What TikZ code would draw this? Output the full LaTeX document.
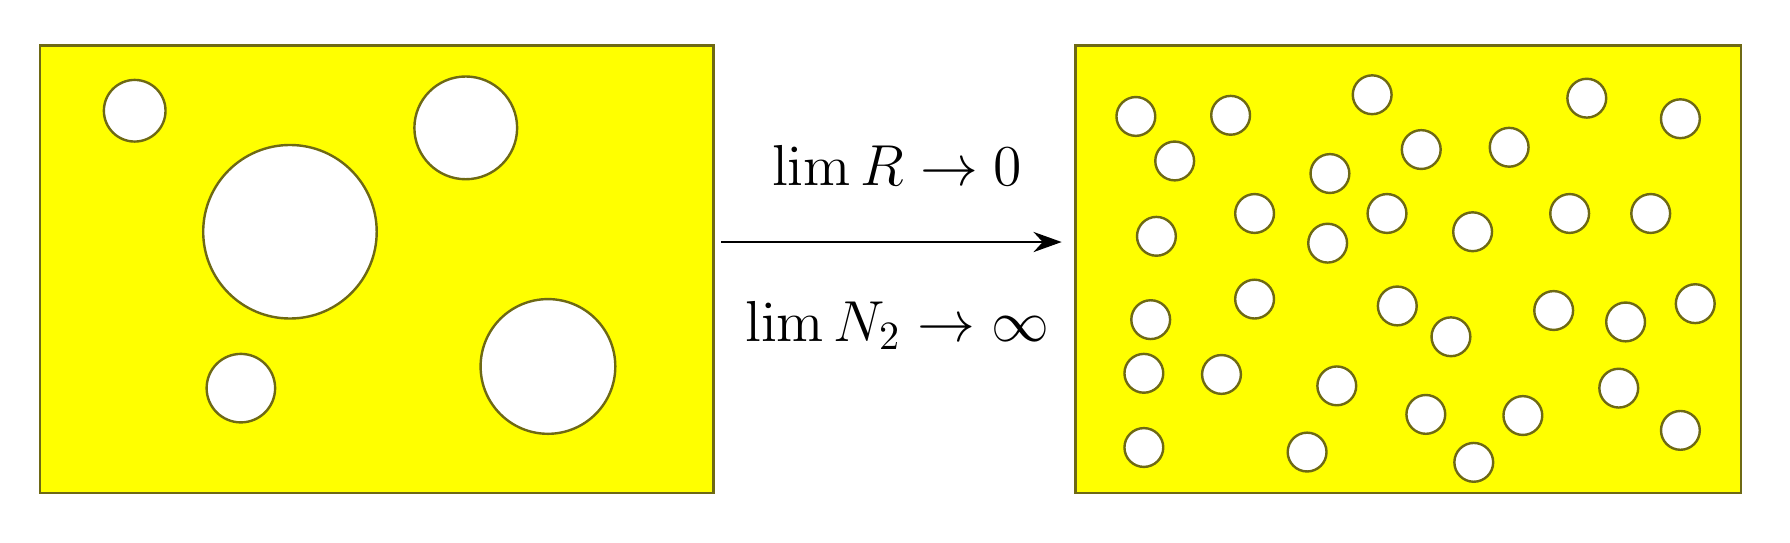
\documentclass[tikz,border=0pt]{standalone}
\usepackage{amsmath}
\usetikzlibrary{arrows.meta}
\definecolor{edge}{RGB}{110,105,20}
\definecolor{cheese}{RGB}{255,255,0}
\begin{document}
\begin{tikzpicture}[x=0.01cm,y=-0.01cm,
  box/.style={fill=cheese,draw=edge,line width=0.6pt},
  hole/.style={fill=white,draw=edge,line width=0.6pt},
  lbl/.style={font=\fontsize{14}{16}\selectfont}]
\useasboundingbox (0,0) rectangle (1568,475);
\fill[white] (0,0) rectangle (1568,475);
\draw[box] (35,40) rectangle (625,432);
\draw[box] (942,40) rectangle (1525,432);
\foreach \x/\y/\r in {118/97/27,408/112/45,254/203/76,211/340/30,480/321/59}
  \draw[hole] (\x,\y) circle[radius=\r];
\foreach \x/\y in {995/102,1078/101,1202/83,1390/86,1472/104,
 1029/141,1165/152,1245/131,1322/129,
 1013/207,1099/187,1163/213,1215/187,1290/203,1375/187,1446/187,
 1008/280,1099/262,1224/268,1271/295,1361/272,1424/282,1485/266,
 1002/327,1070/328,1171/338,1249/363,1334/364,1418/340,
 1002/392,1145/396,1291/405,1472/377}
  \draw[hole] (\x,\y) circle[radius=17];
\coordinate (a) at (632,212);
\coordinate (b) at (930,212);
\draw[-{Stealth[length=7pt,width=5pt]},line width=0.7pt] (a) -- (b);
\node[lbl] (t1) at (786,145) {$\lim R \rightarrow 0$};
\node[lbl] (t2) at (786,285) {$\lim N_2 \rightarrow \infty$};
\end{tikzpicture}
\end{document}
